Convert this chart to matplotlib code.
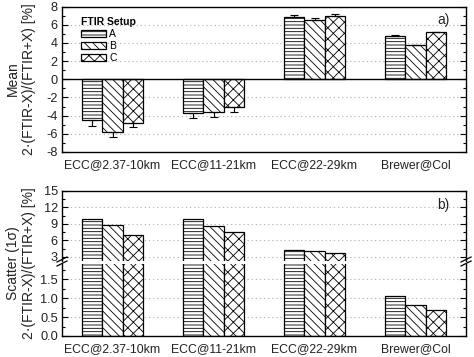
import matplotlib
matplotlib.use("Agg")
import matplotlib.pyplot as plt
import numpy as np
from matplotlib.patches import Patch
from matplotlib.ticker import MultipleLocator

plt.rcParams['font.family'] = ['Liberation Sans', 'DejaVu Sans']
plt.rcParams['hatch.linewidth'] = 0.6
plt.rcParams['axes.unicode_minus'] = False

categories = ["ECC@2.37-10km", "ECC@11-21km", "ECC@22-29km", "Brewer@Col"]
setups = ["A", "B", "C"]
mean_vals = {
    "A": [-4.5, -3.75, 6.9, 4.8],
    "B": [-5.8, -3.65, 6.55, 3.75],
    "C": [-4.8, -3.1, 6.95, 5.15],
}
mean_err = {
    "A": [0.65, 0.55, 0.2, 0.06],
    "B": [0.5, 0.55, 0.25, 0.0],
    "C": [0.4, 0.5, 0.25, 0.0],
}
scatter_vals = {
    "A": [9.8, 9.8, 4.2, 1.06],
    "B": [8.8, 8.6, 4.05, 0.83],
    "C": [7.0, 7.5, 3.75, 0.70],
}
hatches = {"A": "-----", "B": "\\\\\\\\", "C": "xxx"}

W, H = 474, 357
fig = plt.figure(figsize=(W / 100, H / 100), dpi=100)

def fbox(l, t, r, b):
    return [l / W, 1 - b / H, (r - l) / W, (b - t) / H]

ax1 = fig.add_axes(fbox(62, 6.6, 466, 152))
axu = fig.add_axes(fbox(62, 190.7, 466, 260.7))
axl = fig.add_axes(fbox(62, 264.3, 466, 336))

x = np.arange(len(categories))
w = 0.2
offs = {"A": -w, "B": 0.0, "C": w}
fs = 8.8
txtc = '#222222'

def style_y(ax):
    ax.tick_params(axis='y', which='both', direction='in', right=True, left=True,
                   labelsize=fs + 0.4, pad=3, labelcolor=txtc)
    ax.tick_params(axis='y', which='major', length=4, width=0.8)
    ax.tick_params(axis='y', which='minor', length=2.5, width=0.8)
    ax.tick_params(axis='x', length=0, labelsize=fs, pad=5, labelcolor=txtc)
    for s in ax.spines.values():
        s.set_linewidth(1.0)
    ax.set_xlim(-0.5, 3.5)
    ax.set_xticks(x)

grid_kw = dict(color='#b8b8b8', linewidth=0.8, linestyle=(0, (1.2, 2.5)), zorder=1)

# ---- top panel
for s in setups:
    vals = np.array(mean_vals[s])
    err = np.array(mean_err[s])
    lo = np.where(vals < 0, err, 0)
    hi = np.where(vals >= 0, err, 0)
    ax1.bar(x + offs[s], vals, w, facecolor='white', edgecolor='black',
            linewidth=0.9, hatch=hatches[s], zorder=2)
    ax1.errorbar(x + offs[s], vals, yerr=[lo, hi], fmt='none', ecolor='black',
                 elinewidth=0.8, capsize=3, capthick=0.8, zorder=3)
ax1.set_ylim(-8, 8)
ax1.yaxis.set_major_locator(MultipleLocator(2))
ax1.yaxis.set_minor_locator(MultipleLocator(1))
ax1.axhline(0, color='black', linewidth=1.0, zorder=2.5)
for yv in [-6, -4, -2, 2, 4, 6]:
    ax1.axhline(yv, **grid_kw)
style_y(ax1)
ax1.set_xticklabels(categories)
ax1.text(0.945, 0.905, "a)", transform=ax1.transAxes, fontsize=fs + 1,
         ha='center', va='center', color=txtc)

handles = [Patch(facecolor='white', edgecolor='black', hatch=hatches[s], linewidth=0.9)
           for s in setups]
leg = ax1.legend(handles, setups, title="FTIR Setup", loc='upper left',
                 bbox_to_anchor=(0.035, 0.965), frameon=False, fontsize=7.5,
                 title_fontsize=7.5, handlelength=2.4, handleheight=0.75,
                 labelspacing=0.2, handletextpad=0.3, borderpad=0,
                 alignment='left')
leg.get_title().set_fontweight('bold')

# ---- bottom panel (broken axis)
for ax in (axu, axl):
    for s in setups:
        ax.bar(x + offs[s], scatter_vals[s], w, facecolor='white', edgecolor='black',
               linewidth=0.9, hatch=hatches[s], zorder=2)
    style_y(ax)

axu.set_ylim(2.3, 15)
axu.yaxis.set_major_locator(MultipleLocator(3))
axu.yaxis.set_minor_locator(MultipleLocator(1.5))
for yv in [3, 6, 9, 12]:
    axu.axhline(yv, **grid_kw)
axu.spines['bottom'].set_visible(False)
axu.tick_params(axis='x', labelbottom=False)
axu.text(0.945, 0.80, "b)", transform=axu.transAxes, fontsize=fs + 1,
         ha='center', va='center', color=txtc)

axl.set_ylim(0, 1.9)
axl.yaxis.set_major_locator(MultipleLocator(0.5))
axl.yaxis.set_minor_locator(MultipleLocator(0.25))
axl.yaxis.set_major_formatter(matplotlib.ticker.FormatStrFormatter('%.1f'))
for yv in [0.5, 1.0, 1.5]:
    axl.axhline(yv, **grid_kw)
axl.spines['top'].set_visible(False)
axl.set_xticklabels(categories)

# break marks
for xf in (62, 466):
    for yc in (259.5, 263.5):
        fig.add_artist(plt.Line2D([(xf - 5) / W, (xf + 5) / W],
                                  [1 - (yc + 2.5) / H, 1 - (yc - 2.5) / H],
                                  color='black', linewidth=0.9))

# y labels
fig.text(21 / W, 1 - 79 / H, "Mean\n2·(FTIR-X)/(FTIR+X) [%]", rotation=90,
         ha='center', va='center', fontsize=fs + 1.2, multialignment='center',
         linespacing=1.15, color=txtc)
fig.text(21 / W, 1 - 263 / H, "Scatter (1σ)\n2·(FTIR-X)/(FTIR+X) [%]", rotation=90,
         ha='center', va='center', fontsize=fs + 1.2, multialignment='center',
         linespacing=1.15, color=txtc)

fig.savefig("out.png", dpi=100)
